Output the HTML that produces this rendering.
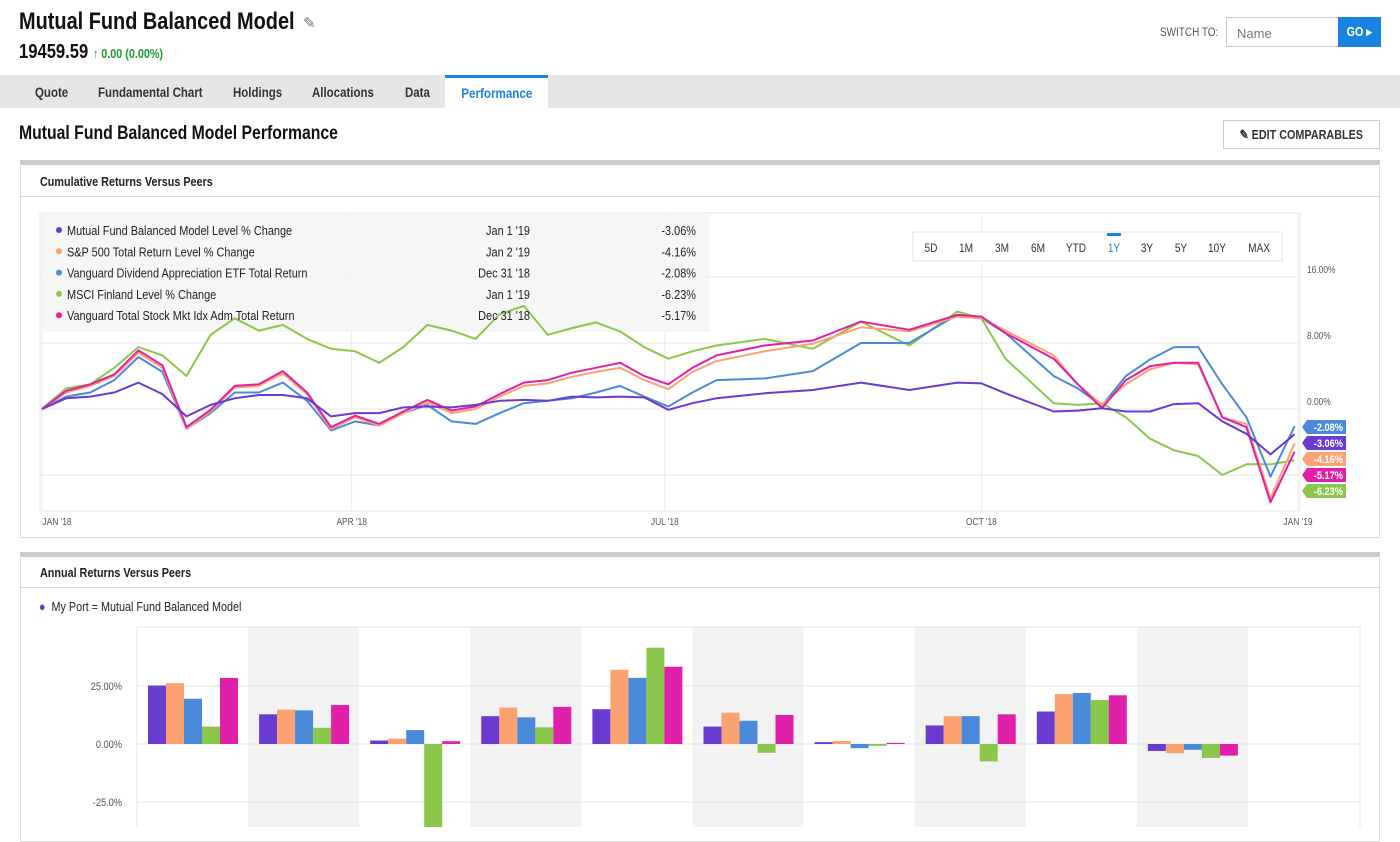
<!DOCTYPE html>
<html><head><meta charset="utf-8">
<style>
*{box-sizing:border-box;margin:0;padding:0}
body{width:1400px;height:827px;overflow:hidden;background:#fff;font-family:"Liberation Sans",sans-serif;color:#222;position:relative}
.a{position:absolute}
.n{transform:scaleX(.83);transform-origin:left center;white-space:nowrap}
.c{display:inline-block;transform:scaleX(.83);transform-origin:center}
.tab{position:absolute;top:75px;height:33px;line-height:34px;font-size:14px;font-weight:bold;color:#333;white-space:nowrap;transform:scaleX(.82);transform-origin:left center}
</style></head><body>
<div class="a n" style="left:19px;top:8px;font-size:24px;font-weight:bold;color:#111">Mutual Fund Balanced Model</div>
<div class="a" style="left:303px;top:14px;font-size:15px;color:#777">✎</div>
<div class="a n" style="left:19px;top:41px;font-size:20px;font-weight:bold;color:#111">19459.59 <span style="font-size:13px;color:#1a9a2a">↑ 0.00 (0.00%)</span></div>
<div class="a n" style="left:1160px;top:25px;font-size:12px;color:#555">SWITCH TO:</div>
<div class="a" style="left:1226px;top:17px;width:113px;height:30px;border:1px solid #ccc;font-size:13px;color:#777;padding:8px 10px">Name</div>
<div class="a" style="left:1338px;top:17px;width:43px;height:30px;background:#1a82e0;color:#fff;font-size:13px;font-weight:bold;line-height:30px;text-align:center"><span class="c">GO ▸</span></div>

<div class="a" style="left:0;top:75px;width:1400px;height:33px;background:#e6e6e6"></div>
<div class="tab" style="left:35px">Quote</div>
<div class="tab" style="left:98px">Fundamental Chart</div>
<div class="tab" style="left:233px">Holdings</div>
<div class="tab" style="left:312px">Allocations</div>
<div class="tab" style="left:405px">Data</div>
<div class="a" style="left:445px;top:75px;height:33px;width:103px;background:#fff;border-top:3px solid #1a82e0;line-height:30px;text-align:center;color:#1a82e0;font-size:14px;font-weight:bold"><span class="c">Performance</span></div>

<div class="a n" style="left:19px;top:123px;font-size:19px;font-weight:bold;color:#111">Mutual Fund Balanced Model Performance</div>
<div class="a" style="left:1223px;top:120px;width:157px;height:29px;border:1px solid #ccc;font-size:13px;font-weight:bold;line-height:27px;text-align:center;color:#333"><span class="c">✎ EDIT COMPARABLES</span></div>

<div class="a" style="left:20px;top:160px;width:1360px;height:378px;border:1px solid #ddd;border-top:5px solid #ccc"></div>
<div class="a n" style="left:40px;top:174px;font-size:13px;font-weight:bold">Cumulative Returns Versus Peers</div>
<div class="a" style="left:21px;top:196px;width:1358px;height:1px;background:#ddd"></div>

<div class="a" style="left:20px;top:552px;width:1360px;height:290px;border:1px solid #ddd;border-top:5px solid #ccc"></div>
<div class="a n" style="left:40px;top:565px;font-size:13px;font-weight:bold">Annual Returns Versus Peers</div>
<div class="a" style="left:21px;top:587px;width:1358px;height:1px;background:#ddd"></div>
<div class="a n" style="left:39px;top:599px;font-size:13px;color:#222"><span style="color:#6a3bd0">●</span>&nbsp; My Port = Mutual Fund Balanced Model</div>

<svg class="a" id="chart" style="left:0;top:0" width="1400" height="827"></svg>

<script>
const dates=[0,7,14,21,28,35,42,49,56,63,70,77,84,91,98,105,112,119,126,133,140,147,154,161,168,175,182,189,196,210,224,238,252,266,273,280,294,301,308,315,322,329,336,343,350,357,364];
const fundVals=[0,1.3,1.5,2.0,3.2,1.8,-0.9,0.5,1.3,1.7,1.7,1.3,-0.9,-0.5,-0.5,0.2,0.3,0.2,0.5,1.0,1.1,1.0,1.5,1.4,1.5,1.4,-0.1,0.7,1.3,1.9,2.3,3.2,2.3,3.2,3.1,1.9,-0.3,-0.2,0.1,-0.3,-0.3,0.6,0.7,-1.5,-3,-5.5,-3.06];
const spVals=[0,2.0,2.8,4.0,6.8,5.0,-2.4,-0.3,2.6,2.8,4.3,1.8,-2.4,-1.0,-2.0,-0.5,0.8,-0.5,0.0,1.5,2.8,3.1,3.9,4.5,5.0,3.5,2.4,4.5,5.8,7.0,7.9,9.9,9.4,11.2,11.0,9.5,6.5,3.0,0.5,3.0,4.8,5.6,5.4,-1.0,-1.8,-10.8,-4.16];
const divVals=[0,1.5,2.0,3.5,6.3,4.5,-2.4,-0.5,2.0,2.0,3.2,1.0,-2.6,-1.5,-2.0,-0.5,0.5,-1.5,-1.8,-0.5,0.7,1.0,1.3,2.0,2.8,1.5,0.3,2.0,3.5,3.7,4.6,8.0,8.0,11.4,11.0,9.2,4.0,2.5,0.4,4.0,6.0,7.5,7.5,3.0,-1,-8.2,-2.08];
const finVals=[0,2.5,3.0,5.0,7.5,6.5,4.0,9.0,11.0,9.5,10.2,8.5,7.3,7.0,5.6,7.5,10.2,9.5,8.5,11.5,12.5,9.0,9.8,10.5,9.4,7.5,6.1,7.0,7.7,8.5,7.3,10.6,7.7,11.8,11.0,6.1,0.7,0.5,0.7,-1.0,-3.6,-5.0,-5.7,-8.0,-6.7,-6.7,-6.23];
const totVals=[0,2.2,3.0,4.2,7.1,5.3,-2.2,-0.1,2.8,3.0,4.6,2.0,-2.2,-0.8,-1.8,-0.3,1.1,-0.2,0.3,1.8,3.2,3.5,4.4,5.0,5.6,4.0,3.0,5.0,6.5,7.7,8.3,10.6,9.6,11.4,11.2,9.2,6.1,3.0,0.1,3.5,5.2,5.6,5.6,-1.0,-2.2,-11.3,-5.17];
const yTicks=[16,8,0,-8];
const xTickLabels=["JAN '18","APR '18","JUL '18","OCT '18","JAN '19"];
const xTickDays=[0,90,181,273,365];
const legendNames=["Mutual Fund Balanced Model Level % Change","S&P 500 Total Return Level % Change","Vanguard Dividend Appreciation ETF Total Return","MSCI Finland Level % Change","Vanguard Total Stock Mkt Idx Adm Total Return"];
const legendDates=["Jan 1 '19","Jan 2 '19","Dec 31 '18","Jan 1 '19","Dec 31 '18"];
const legendVals=["-3.06%","-4.16%","-2.08%","-6.23%","-5.17%"];
const ranges=["5D","1M","3M","6M","YTD","1Y","3Y","5Y","10Y","MAX"];
const barCats=["2009","2010","2011","2012","2013","2014","2015","2016","2017","2018"];
const barFund=[25.2,12.8,1.5,12,15,7.5,0.8,8,14,-3];
const barSP=[26.2,14.8,2.3,15.7,32,13.5,1.3,12,21.5,-4];
const barDiv=[19.5,14.5,6,11.5,28.5,10,-1.8,12,22,-2.5];
const barFin=[7.5,7,-38,7.2,41.5,-3.8,-0.8,-7.5,19,-6];
const barTot=[28.5,16.8,1.2,16,33.3,12.5,0.5,12.8,21,-5];
const barTicks=[25,0,-25];
const barTickLabels=["25.00%","0.00%","-25.0%"];

const colors=["#6a3bd0","#fba270","#4a8ad8","#8ac74a","#e020a8"];
const svg=document.getElementById('chart');
const NS='http://www.w3.org/2000/svg';
function mk(t,at,parent){const e=document.createElementNS(NS,t);for(const k in at)e.setAttribute(k,at[k]);(parent||svg).appendChild(e);return e;}
function txt(x,y,s,str,at){const t=mk('text',Object.assign({x:x,y:y,'font-size':s,'font-family':'Liberation Sans, sans-serif',transform:`translate(${x},0) scale(0.84,1) translate(${-x},0)`},at));t.textContent=str;return t;}
const xS=d=>42+d*(1256/365);
const yS=v=>409-v*8.25;

let r=mk('rect',{x:40,y:213,width:1260,height:298,fill:'none',stroke:'#e6e6e6'});

yTicks.forEach(v=>{
 const l=mk('line',{x1:40,x2:1300,y1:yS(v),y2:yS(v),stroke:'#e6e6e6'});
 
 if(v>=0){const t=txt(1307,yS(v)-4,10,v.toFixed(2)+'%',{fill:'#555'});
 }
});
xTickDays.forEach((d,i)=>{
 const l=mk('line',{x1:xS(d),x2:xS(d),y1:213,y2:511,stroke:'#eaeaea'});
 
 const t=txt(xS(d)+(i==0?15:0),525,10,xTickLabels[i],{fill:'#555','text-anchor':'middle'});
 
});
r=mk('rect',{x:41,y:214,width:669,height:118,fill:'#f4f4f4','fill-opacity':0.85});

const series=[fundVals,spVals,divVals,finVals,totVals];
const snames=['fund','sp500','dividend','finland','total-stock'];
const drawOrder=[3,2,1,4,0];
drawOrder.forEach(si=>{
 const pts=dates.map((d,i)=>xS(d).toFixed(1)+','+yS(series[si][i]).toFixed(1)).join(' ');
 const p=mk('polyline',{points:pts,fill:'none',stroke:colors[si],'stroke-width':2,'stroke-linejoin':'round'});
 
});
legendNames.forEach((n,i)=>{
 const y=230+i*21.3;
 const c=mk('circle',{cx:59,cy:y,r:3,fill:colors[i]});
 
 let t=txt(67,y+5,13,n,{fill:'#222'});
 
 t=txt(530,y+5,13,legendDates[i],{fill:'#222','text-anchor':'end'});
 
 t=txt(696,y+5,13,legendVals[i],{fill:'#222','text-anchor':'end'});
 
});
r=mk('rect',{x:913,y:232,width:369,height:29,fill:'#fff',stroke:'#e3e3e3'});

const rx=[931,966,1002,1038,1076,1114,1147,1181,1217,1259];
ranges.forEach((s,i)=>{
 const t=txt(rx[i],252,12,s,{fill:s=='1Y'?'#1a82e0':'#333','text-anchor':'middle'});
 
 if(s=='1Y'){const b=mk('rect',{x:rx[i]-7,y:233,width:14,height:3,fill:'#1a82e0'});}
});
const tagOrder=[2,0,1,4,3];
tagOrder.forEach((si,k)=>{
 const y=427+k*16;
 const g=mk('polygon',{points:`1302,${y} 1307,${y-7} 1346,${y-7} 1346,${y+7} 1307,${y+7}`,fill:colors[si]});
 
 const t=txt(1343,y+4,11,series[si][series[si].length-1].toFixed(2)+'%',{'font-weight':'bold',fill:'#fff','text-anchor':'end'});
 
});

const bY=v=>744-v*2.32;
const gx=i=>137+i*111.1;
barCats.forEach((c,i)=>{
 if(i%2==1){const b=mk('rect',{x:gx(i),y:627,width:111,height:200,fill:'#f2f2f2'});}
});
r=mk('rect',{x:137,y:627,width:1223,height:210,fill:'none',stroke:'#e6e6e6'});

barTicks.forEach((v,i)=>{
 const l=mk('line',{x1:137,x2:1360,y1:bY(v),y2:bY(v),stroke:'#e3e3e3'});
 
 const t=txt(122,bY(v)+4,11,barTickLabels[i],{fill:'#555','text-anchor':'end'});
 
});
const bseries=[barFund,barSP,barDiv,barFin,barTot];
barCats.forEach((c,i)=>{
 bseries.forEach((s,si)=>{
  const v=s[i];const y0=bY(0),y1=bY(v);
  const b=mk('rect',{x:gx(i)+11+si*18,y:Math.min(y0,y1),width:18,height:Math.abs(y1-y0),fill:colors[si]});
  
 });
});
</script>
</body></html>
